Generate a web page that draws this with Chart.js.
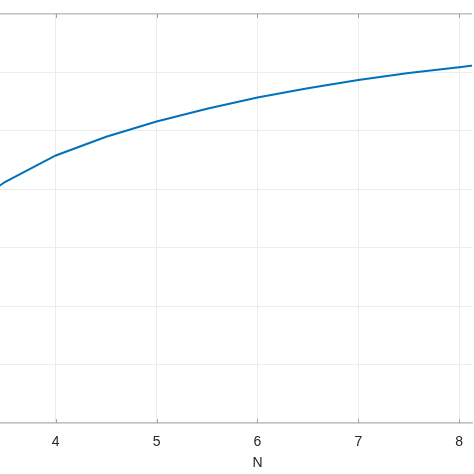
<!DOCTYPE html>
<html>
<head>
<meta charset="utf-8">
<script src="https://cdn.jsdelivr.net/npm/chart.js@4/dist/chart.umd.min.js"></script>
<style>
  html, body { margin: 0; padding: 0; background: #fff; }
  #wrap { width: 474px; height: 474px; }
</style>
</head>
<body>
<div id="wrap"><canvas id="chart" width="474" height="474"></canvas></div>
<script>
// values (y axis labels are cut off in the source)
const nValues = [3, 3.5, 4, 4.5, 5, 5.5, 6, 6.5, 7, 7.5, 8, 8.5];
const yValues = [3.55, 4.13, 4.58, 4.90, 5.16, 5.38, 5.57, 5.73, 5.87, 5.99, 6.09, 6.19];
const xTicks = [4, 5, 6, 7, 8];
const xRange = [3.447, 8.128];
const fullXRange = [3, 9]; // original axes, cropped in the picture
const yRange = [0, 7];
const xLabel = 'N';

const points = nValues.map((n, i) => ({ x: n, y: yValues[i] }));

// MATLAB style inward tick marks + x label centred on the full axes
const matlabBits = {
  id: 'matlabBits',
  afterDraw(chart) {
    const ctx = chart.ctx;
    const area = chart.chartArea;
    const xs = chart.scales.x;
    ctx.save();
    ctx.strokeStyle = '#a0a0a0';
    ctx.lineWidth = 1;
    xTicks.forEach(t => {
      const px = Math.round(xs.getPixelForValue(t)) + 0.5;
      ctx.beginPath();
      ctx.moveTo(px, area.bottom);
      ctx.lineTo(px, area.bottom - 4);
      ctx.moveTo(px, area.top);
      ctx.lineTo(px, area.top + 4);
      ctx.stroke();
    });
    const mid = xs.getPixelForValue((fullXRange[0] + fullXRange[1]) / 2);
    ctx.fillStyle = '#262626';
    ctx.font = '14px "Liberation Sans"';
    ctx.textAlign = 'center';
    ctx.textBaseline = 'middle';
    ctx.fillText(xLabel, mid, area.bottom + 40);
    ctx.restore();
  }
};

new Chart(document.getElementById('chart'), {
  type: 'line',
  data: {
    datasets: [{
      data: points,
      borderColor: '#0072BD',
      borderWidth: 2,
      pointRadius: 0,
      tension: 0,
      fill: false
    }]
  },
  options: {
    responsive: false,
    animation: false,
    devicePixelRatio: 1,
    layout: { padding: { left: 0, right: -2, top: 14, bottom: 12 } },
    plugins: { legend: { display: false }, tooltip: { enabled: false } },
    scales: {
      x: {
        type: 'linear',
        min: xRange[0],
        max: xRange[1],
        afterBuildTicks: axis => { axis.ticks = xTicks.map(v => ({ value: v })); },
        grid: { color: '#ececec', drawTicks: false },
        border: { color: '#c0c0c0', width: 1.5 },
        ticks: {
          padding: 11,
          color: '#262626',
          font: { family: 'Liberation Sans', size: 14 }
        }
      },
      y: {
        min: yRange[0],
        max: yRange[1],
        ticks: { display: false, stepSize: 1 },
        grid: {
          drawTicks: false,
          color: c => c.tick && c.tick.value === yRange[1] ? '#c0c0c0' : '#ececec',
          lineWidth: c => c.tick && c.tick.value === yRange[1] ? 1.5 : 1
        },
        border: { display: false }
      }
    }
  },
  plugins: [matlabBits]
});
</script>
</body>
</html>
